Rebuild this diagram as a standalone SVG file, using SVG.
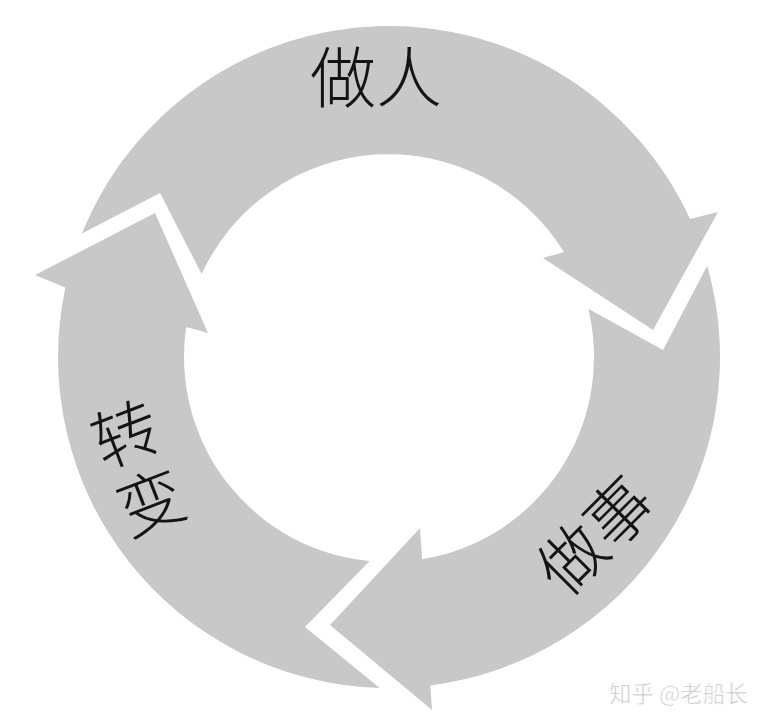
<svg xmlns="http://www.w3.org/2000/svg" width="769" height="724" viewBox="0 0 769 724">
  <style>
    .arrow { fill: #c8c8c8; stroke: none; }
    .label { font-family: "Noto Sans CJK SC", "Noto Sans CJK TC", sans-serif; font-size: 66px; fill: #141414; text-anchor: middle; dominant-baseline: central; font-weight: 300; }
    .mark { font-family: "Noto Sans CJK SC", sans-serif; font-size: 22.5px; fill: #c4c4c4; stroke: #ffffff; stroke-width: 0.6px; }
  </style>
  <rect width="769" height="724" fill="#ffffff"/>
  <g id="node-zuoren">
    <path class="arrow" d="M 82,233.5 L 160,193 L 201.6,274 A 206 206 0 0 1 564,252 L 543,258 L 653,330 L 718,212 L 690,219 A 331 331 0 0 0 82,233.5 Z"/>
    <text class="label" x="376" y="73">做人</text>
  </g>
  <g id="node-zuoshi">
    <path class="arrow" d="M 707.2,265.8 L 663,350 L 588.3,308.8 A 205 205 0 0 1 422.1,559.3 L 420,528 L 330,625 L 432,710 L 430.4,685.4 A 331 331 0 0 0 707.2,265.8 Z"/>
    <text class="label" transform="translate(592,532) rotate(-45)" x="0" y="0">做事</text>
  </g>
  <g id="node-zhuanbian">
    <path class="arrow" d="M 379.8,687.9 L 305,627 L 369.7,561.1 A 205 205 0 0 1 186.2,327.1 L 208,333 L 155,213 L 35,275 L 65.4,287.6 A 331 331 0 0 0 379.8,687.9 Z"/>
    <text class="label" transform="translate(124,430) rotate(-21)" x="0" y="0">转</text>
    <text class="label" transform="translate(149,498) rotate(-21)" x="0" y="0">变</text>
  </g>
  <text class="mark" x="609" y="702">知乎 @老船长</text>
</svg>
